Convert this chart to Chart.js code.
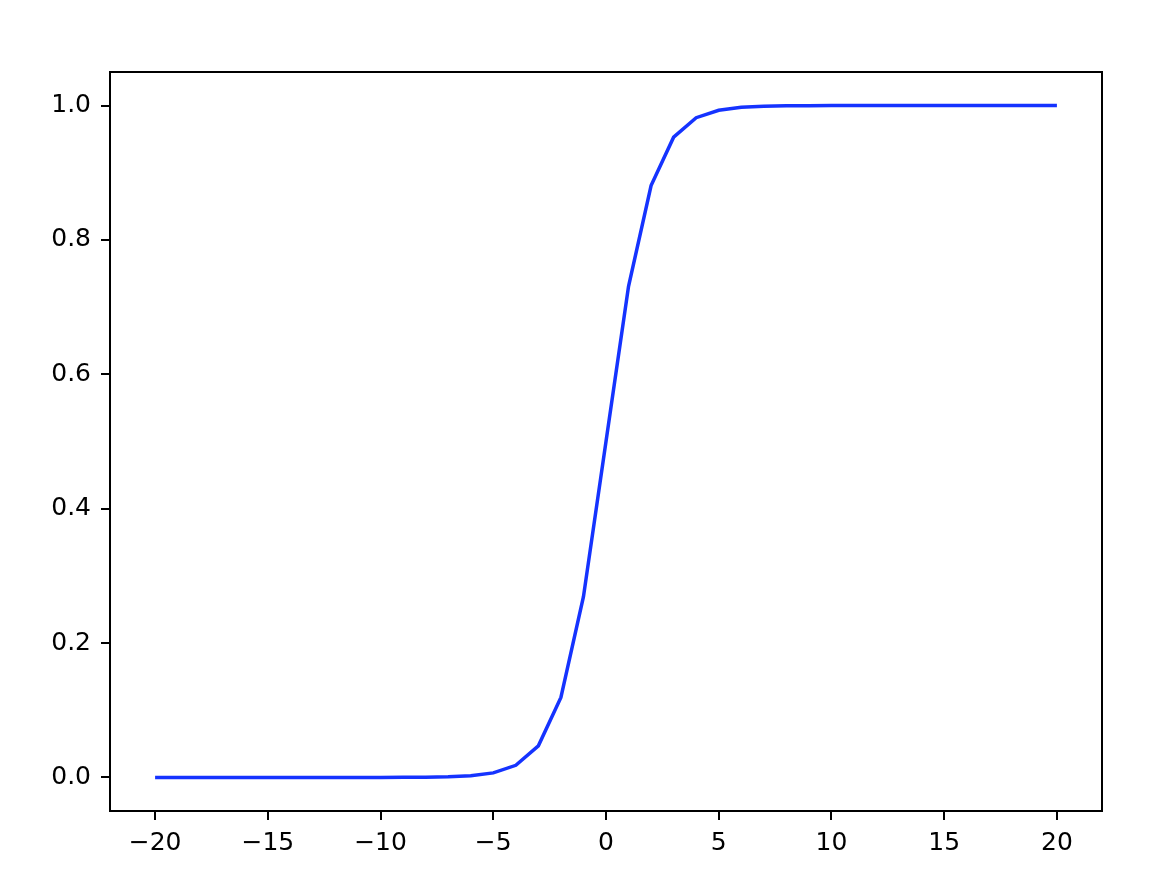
<!DOCTYPE html>
<html>
<head>
<meta charset="utf-8">
<script src="https://cdn.jsdelivr.net/npm/chart.js@4/dist/chart.umd.min.js"></script>
<style>
html,body{margin:0;padding:0;background:#fff;}
#wrap{width:1156px;height:874px;position:relative;}
</style>
</head>
<body>
<div id="wrap"><canvas id="c" width="1156" height="874"></canvas></div>
<script>
const xValues = [-20,-19,-18,-17,-16,-15,-14,-13,-12,-11,-10,-9,-8,-7,-6,-5,-4,-3,-2,-1,0,1,2,3,4,5,6,7,8,9,10,11,12,13,14,15,16,17,18,19,20];
const yValues = [0.000,0.000,0.000,0.000,0.000,0.000,0.000,0.000,0.000,0.000,0.0000,0.0001,0.0003,0.0009,0.0025,0.0067,0.018,0.047,0.119,0.269,0.500,0.731,0.881,0.953,0.982,0.993,0.9975,0.9991,0.9997,0.9999,1.000,1.000,1.000,1.000,1.000,1.000,1.000,1.000,1.000,1.000,1.000];
const xTicks = [-20,-15,-10,-5,0,5,10,15,20];
const yTicks = [0.0,0.2,0.4,0.6,0.8,1.0];

const frame = {
  id:'frame',
  afterDraw(chart){
    const {ctx, chartArea:a} = chart;
    ctx.save();
    ctx.strokeStyle='#000';
    ctx.lineWidth=2;
    ctx.strokeRect(a.left, a.top, a.right-a.left, a.bottom-a.top);
    ctx.restore();
  }
};
const fmt = v => String(v).replace('-', '\u2212');

new Chart(document.getElementById('c'), {
  type:'scatter',
  data:{datasets:[{
    data: xValues.map((x,i)=>({x:x, y:yValues[i]})),
    showLine:true,
    borderColor:'#1533ff',
    borderWidth:3.5,
    pointRadius:0,
    fill:false,
    tension:0
  }]},
  options:{
    responsive:false,
    animation:false,
    layout:{padding:{left:0,right:54,top:72,bottom:0}},
    plugins:{legend:{display:false},tooltip:{enabled:false}},
    scales:{
      x:{
        type:'linear', min:-22, max:22,
        afterBuildTicks(s){ s.ticks = xTicks.map(v=>({value:v})); },
        afterFit(s){ s.height = 63; },
        ticks:{color:'#000', font:{family:'DejaVu Sans', size:25}, padding:8, maxRotation:0,
          callback:v=>fmt(v)},
        grid:{drawOnChartArea:false, tickLength:9, color:'#000', lineWidth:2},
        border:{display:false}
      },
      y:{
        type:'linear', min:-0.05, max:1.05,
        afterBuildTicks(s){ s.ticks = yTicks.map(v=>({value:v})); },
        afterFit(s){ s.width = 110; },
        ticks:{color:'#000', font:{family:'DejaVu Sans', size:25}, padding:10,
          callback:v=>v.toFixed(1)},
        grid:{drawOnChartArea:false, tickLength:9, color:'#000', lineWidth:2},
        border:{display:false}
      }
    }
  },
  plugins:[frame]
});
</script>
</body>
</html>
